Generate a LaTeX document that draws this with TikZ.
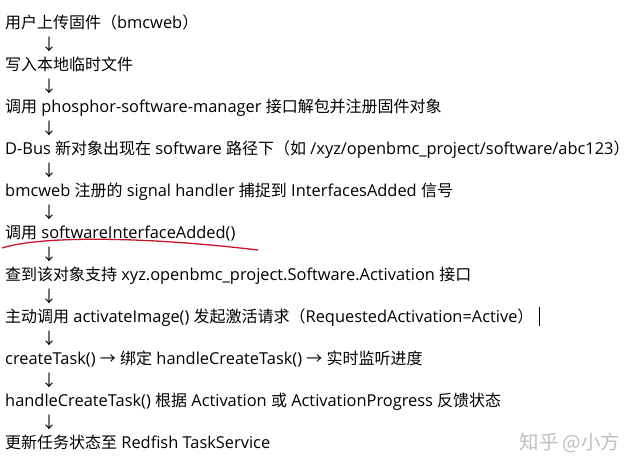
\documentclass[tikz,border=0pt]{standalone}
\usepackage{fontspec}
\setmainfont{Open Sans}
\newfontfamily\cjk[Scale=0.975]{Noto Sans CJK SC}
\newcommand{\zh}[1]{{\cjk #1}}
\usepackage{tikz}
\usetikzlibrary{calc}

\definecolor{penred}{RGB}{200,20,40}

\begin{document}
\begin{tikzpicture}[x=1pt,y=-1pt]
    \useasboundingbox (0,0) rectangle (637,467);
    \tikzset{
        flowline/.style={anchor=base west,inner sep=0pt,font=\fontsize{16.4}{18}\selectfont},
        downarrow/.style={inner sep=0pt,font=\fontsize{16.4}{18}\selectfont\cjk}
    }

    % the steps, one per line
    \foreach \txt [count=\i] in {%
        {\zh{用户上传固件（}bmcweb\zh{）}},
        {\zh{写入本地临时文件}},
        {\zh{调用} phosphor-software-manager \zh{接口解包并注册固件对象}},
        {D-Bus \zh{新对象出现在} software \zh{路径下（如} /xyz/openbmc\_project/software/abc123\zh{）}},
        {bmcweb \zh{注册的} signal handler \zh{捕捉到} InterfacesAdded \zh{信号}},
        {\zh{调用} softwareInterfaceAdded()},
        {\zh{查到该对象支持} xyz.openbmc\_project.Software.Activation \zh{接口}},
        {\zh{主动调用} activateImage() \zh{发起激活请求（}RequestedActivation=Active\zh{）}},
        {createTask() \zh{→} \zh{绑定} handleCreateTask() \zh{→} \zh{实时监听进度}},
        {handleCreateTask() \zh{根据} Activation \zh{或} ActivationProgress \zh{反馈状态}},
        {\zh{更新任务状态至} Redfish TaskService}}
        \node[flowline] (line\i) at (5,{28+42*(\i-1)}) {\txt};

    % arrows between the steps
    \foreach \i in {1,...,10}
        \node[downarrow] (arrow\i) at (49,{44+42*(\i-1)}) {↓};

    % red pen mark under step 6
    \coordinate (mark_a) at (2,248);
    \coordinate (mark_b) at (258,250);
    \draw[penred,line width=1.3pt] (mark_a) .. controls (40,236) and (140,236) .. (mark_b);

    % text cursor after step 8
    \coordinate (cur_top) at (539,307);
    \coordinate (cur_bot) at (539,326);
    \draw[line width=0.7pt] (cur_top) -- (cur_bot);

    \node[inner sep=0pt,text=black!25,font=\fontsize{20}{22}\selectfont\cjk] (mark) at (570,443) {知乎 @小方};
\end{tikzpicture}
\end{document}
